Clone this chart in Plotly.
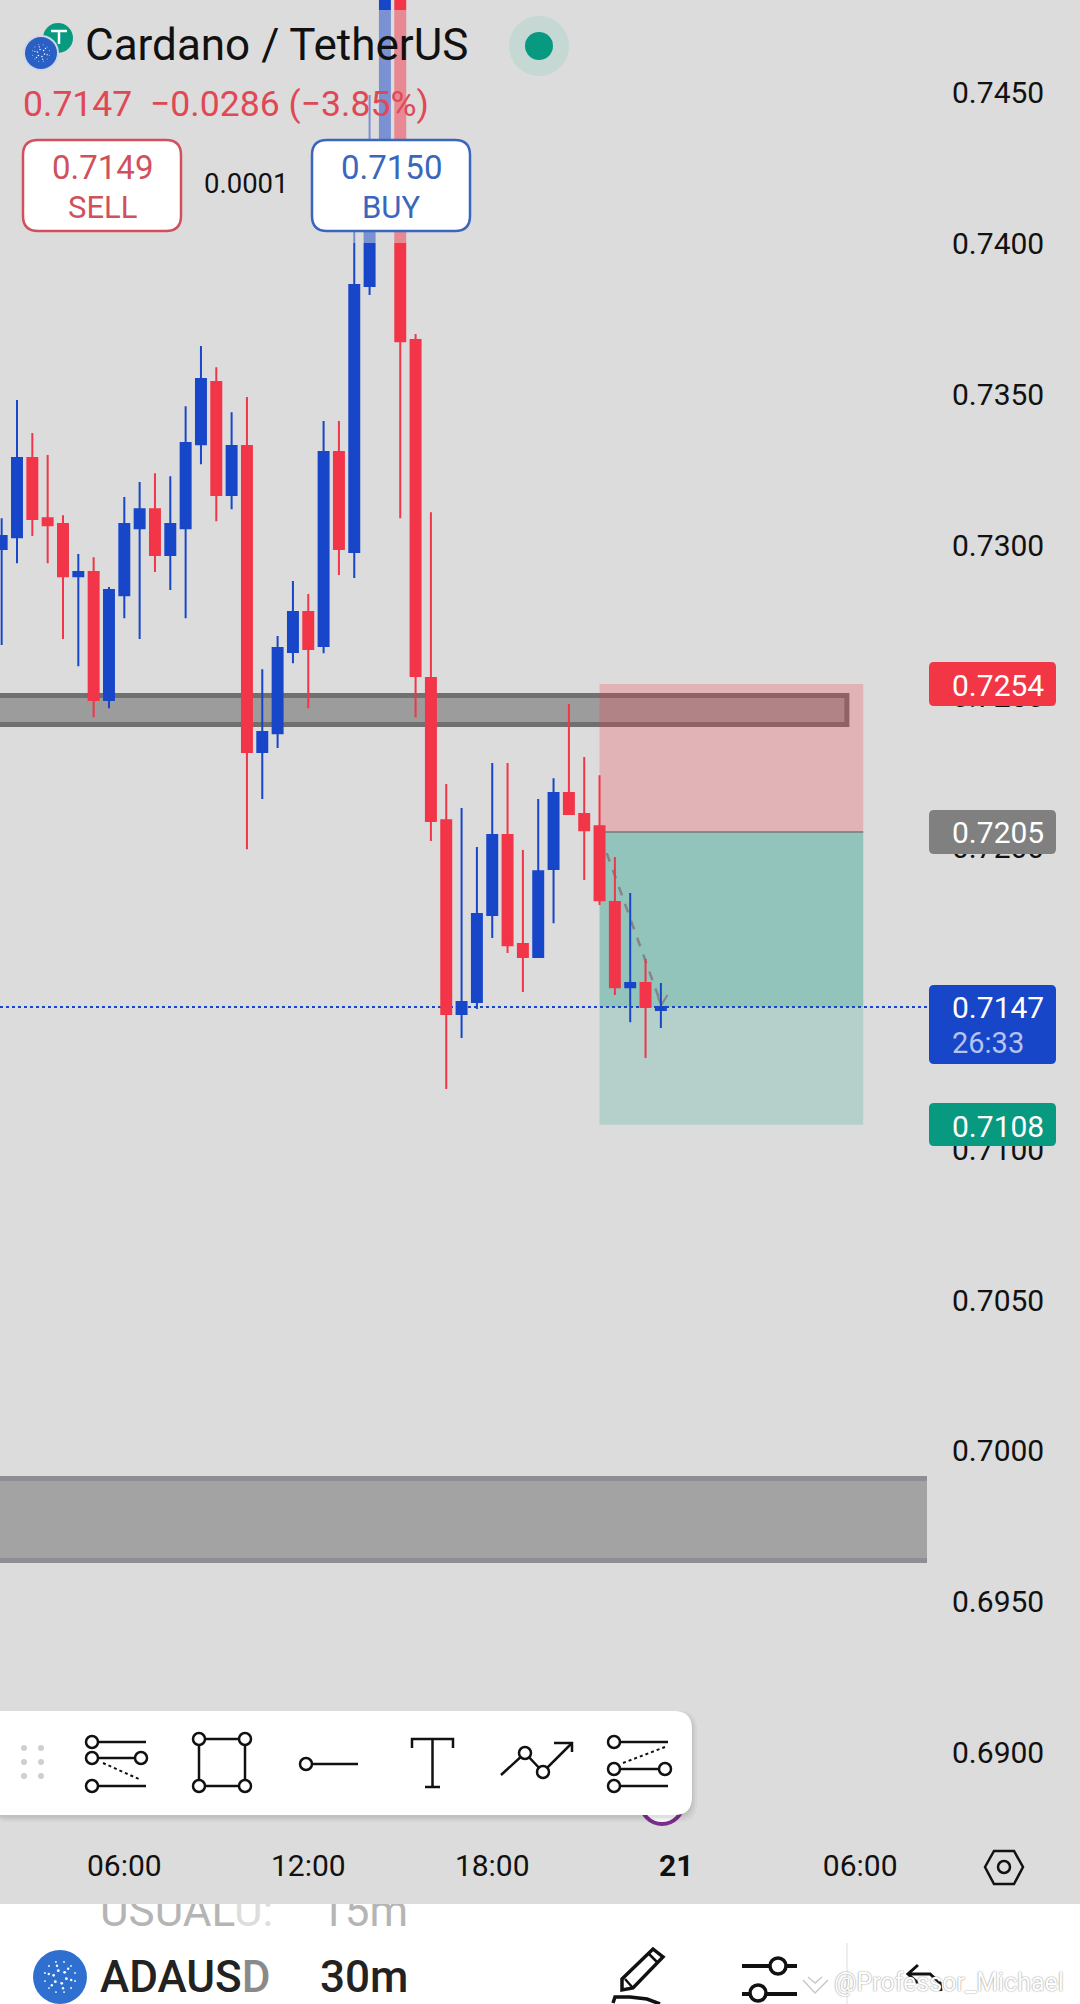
import numpy as np
import plotly.graph_objs as go

# ADAUSDT 30m candles
times = ['2025-01-20 02:00', '2025-01-20 02:30', '2025-01-20 03:00', '2025-01-20 03:30', '2025-01-20 04:00',
         '2025-01-20 04:30', '2025-01-20 05:00', '2025-01-20 05:30', '2025-01-20 06:00', '2025-01-20 06:30',
         '2025-01-20 07:00', '2025-01-20 07:30', '2025-01-20 08:00', '2025-01-20 08:30', '2025-01-20 09:00',
         '2025-01-20 09:30', '2025-01-20 10:00', '2025-01-20 10:30', '2025-01-20 11:00', '2025-01-20 11:30',
         '2025-01-20 12:00', '2025-01-20 12:30', '2025-01-20 13:00', '2025-01-20 13:30', '2025-01-20 14:00',
         '2025-01-20 14:30', '2025-01-20 15:00', '2025-01-20 15:30', '2025-01-20 16:00', '2025-01-20 16:30',
         '2025-01-20 17:00', '2025-01-20 17:30', '2025-01-20 18:00', '2025-01-20 18:30', '2025-01-20 19:00',
         '2025-01-20 19:30', '2025-01-20 20:00', '2025-01-20 20:30', '2025-01-20 21:00', '2025-01-20 21:30',
         '2025-01-20 22:00', '2025-01-20 22:30', '2025-01-20 23:00', '2025-01-20 23:30']
opens = [.72987, .73026, .73288, .73089, .73070, .72897, .72911, .72487, .72834, .73056, .73119,
         .72967, .73056, .73334, .73540, .73166, .73328, .72315, .72377, .72646, .72778, .72666,
         .73308, .72977, .73858, .74175, .75000, .73679, .72560, .72089, .71447, .71487, .71775,
         .72040, .71679, .71636, .71927, .72179, .72109, .72069, .71818, .71536, .71550, .71460]
highs = [.73089, .73480, .73371, .73298, .73099, .72970, .72960, .72861, .73159, .73209, .73238,
         .73228, .73460, .73659, .73589, .73440, .73490, .72589, .72699, .72881, .72838, .73411,
         .73411, .74090, .74490, .75100, .75050, .73699, .73109, .72209, .72129, .72000, .72278,
         .72278, .71990, .72159, .72228, .72474, .72298, .72238, .71967, .71848, .71629, .71550]
lows = [.72669, .72940, .73030, .72940, .72689, .72599, .72430, .72460, .72758, .72689, .72911,
        .72851, .72758, .73268, .73079, .73119, .71993, .72159, .72328, .72609, .72460, .72642,
        .72901, .72891, .73828, .74150, .73089, .72430, .72020, .71199, .71368, .71464, .71699,
        .71649, .71520, .71748, .71748, .72109, .71891, .71808, .71510, .71420, .71301, .71401]
closes = [.73030, .73288, .73086, .73066, .72897, .72911, .72487, .72851, .73070, .73119, .72967,
          .73070, .73338, .73550, .73166, .73328, .72315, .72381, .72659, .72778, .72656, .73308,
          .72987, .73861, .74175, .75000, .73675, .72566, .72086, .71447, .71487, .71778, .72040,
          .71675, .71636, .71920, .72179, .72109, .72056, .71824, .71536, .71550, .71470, .71470]

price_ticks = [0.69, 0.695, 0.70, 0.705, 0.71, 0.715, 0.72, 0.725, 0.73, 0.735, 0.74, 0.745]
price_range = [0.68725, 0.74805]
time_ticks = ['2025-01-20 06:00', '2025-01-20 12:00', '2025-01-20 18:00', '2025-01-21 00:00', '2025-01-21 06:00']
time_labels = ['06:00', '12:00', '18:00', '<b>21</b>', '06:00']
time_range = ['2025-01-20 01:56:44', '2025-01-21 08:10:48']

# drawings on the chart
last_price = 0.7147
stop_price = 0.7254
entry_price = 0.7205
target_price = 0.7108
box_start = '2025-01-20 21:30'
box_end = '2025-01-21 06:06'
zone1_prices = [0.72406, 0.72502]
zone1_start = '2025-01-20 01:00'
zone1_end = '2025-01-21 05:34'
zone2_prices = [0.69629, 0.69917]
zone2_lines = [0.69637, 0.69909]
arrow_x = ['2025-01-20 21:44', '2025-01-20 23:31']
arrow_y = [0.71980, 0.71477]
head_x = ['2025-01-20 23:24', '2025-01-20 23:43']
head_y = [0.71503, 0.7151]

BG = '#dcdcdc'
BLUE = '#1846c8'
RED = '#f23548'
FONT = 'Roboto'
W, H = 1080, 2004


def fx(x):
    return x / W


def fy(y):
    return 1 - y / H


shapes = []


def paper_line(x0, y0, x1, y1, color='#111111', width=2.5, dash='solid'):
    shapes.append(dict(type='line', xref='paper', yref='paper', layer='above',
                       x0=fx(x0), y0=fy(y0), x1=fx(x1), y1=fy(y1),
                       line=dict(color=color, width=width, dash=dash)))


def paper_circle(x, y, r, fill='white', color='#111111', width=2.5, layer='above'):
    shapes.append(dict(type='circle', xref='paper', yref='paper', layer=layer,
                       x0=fx(x - r), y0=fy(y - r), x1=fx(x + r), y1=fy(y + r),
                       fillcolor=fill, line=dict(color=color, width=width)))


def round_box(x0, y0, x1, y1, r, fill, color='rgba(0,0,0,0)', width=0, opacity=1, layer='above'):
    p = (f'M {fx(x0 + r)} {fy(y0)} L {fx(x1 - r)} {fy(y0)} Q {fx(x1)} {fy(y0)} {fx(x1)} {fy(y0 + r)} '
         f'L {fx(x1)} {fy(y1 - r)} Q {fx(x1)} {fy(y1)} {fx(x1 - r)} {fy(y1)} '
         f'L {fx(x0 + r)} {fy(y1)} Q {fx(x0)} {fy(y1)} {fx(x0)} {fy(y1 - r)} '
         f'L {fx(x0)} {fy(y0 + r)} Q {fx(x0)} {fy(y0)} {fx(x0 + r)} {fy(y0)} Z')
    shapes.append(dict(type='path', xref='paper', yref='paper', layer=layer, path=p, fillcolor=fill,
                       opacity=opacity, line=dict(color=color, width=width)))


def poly(points, color='#111111', width=2.5, fill=None, close=False):
    p = 'M ' + ' L '.join(f'{fx(x)} {fy(y)}' for x, y in points) + (' Z' if close else '')
    shapes.append(dict(type='path', xref='paper', yref='paper', layer='above', path=p,
                       fillcolor=fill if fill else 'rgba(0,0,0,0)', line=dict(color=color, width=width)))


def cardano_dots(cx, cy, scale):
    for radius, n, size in [(0.33, 6, 0.07), (0.58, 6, 0.06), (0.78, 12, 0.045)]:
        for a in np.linspace(0, 2 * np.pi, n, endpoint=False):
            paper_circle(cx + radius * scale * np.cos(a + 0.26), cy + radius * scale * np.sin(a + 0.26),
                         size * scale, color='white', width=0)


annotations = []


def label(x, y, text, size, color='#111111', anchor='left', **font_extra):
    annotations.append(dict(xref='paper', yref='paper', x=fx(x), y=fy(y), text=text, showarrow=False,
                            xanchor=anchor, yanchor='middle', borderpad=0,
                            font=dict(family=FONT, size=size, color=color, **font_extra)))


# position tool, zones and price line go under the candles
shapes.append(dict(type='rect', xref='x', yref='y', layer='below', x0=zone1_start, x1=zone1_end,
                   y0=zone1_prices[0], y1=zone1_prices[1], fillcolor='#9c9c9c',
                   line=dict(color='#707070', width=5)))
shapes.append(dict(type='rect', xref='paper', yref='y', layer='below', x0=0, x1=fx(927),
                   y0=zone2_prices[0], y1=zone2_prices[1], fillcolor='#a3a3a3', line=dict(width=0)))
for zl in zone2_lines:
    shapes.append(dict(type='line', xref='paper', yref='y', layer='below', x0=0, x1=fx(927),
                       y0=zl, y1=zl, line=dict(color='#8e8e93', width=5)))
shapes.append(dict(type='rect', xref='x', yref='y', layer='below', x0=box_start, x1=box_end,
                   y0=entry_price, y1=stop_price, fillcolor='rgba(242,54,69,0.25)', line=dict(width=0)))
shapes.append(dict(type='rect', xref='x', yref='y', layer='below', x0=box_start, x1=box_end,
                   y0=last_price, y1=entry_price, fillcolor='rgba(8,153,129,0.35)', line=dict(width=0)))
shapes.append(dict(type='rect', xref='x', yref='y', layer='below', x0=box_start, x1=box_end,
                   y0=target_price, y1=last_price, fillcolor='rgba(8,153,129,0.18)', line=dict(width=0)))
shapes.append(dict(type='line', xref='x', yref='y', layer='below', x0=box_start, x1=box_end,
                   y0=entry_price, y1=entry_price, line=dict(color='#808c8a', width=2)))
shapes.append(dict(type='line', xref='x', yref='y', layer='below', x0=time_range[0], x1=time_range[1],
                   y0=last_price, y1=last_price, line=dict(color=BLUE, width=2, dash='dot')))
shapes.append(dict(type='line', xref='x', yref='y', layer='below', x0=arrow_x[0], x1=arrow_x[1],
                   y0=arrow_y[0], y1=arrow_y[1], line=dict(color='#858585', width=2.5, dash='dash')))
for hx, hy in zip(head_x, head_y):
    shapes.append(dict(type='line', xref='x', yref='y', layer='below', x0=hx, x1=arrow_x[1],
                       y0=hy, y1=arrow_y[1], line=dict(color='#858585', width=2)))

# header veil over the candles
shapes.append(dict(type='rect', xref='paper', yref='paper', layer='above', x0=0, x1=fx(600),
                   y0=fy(243), y1=fy(10), fillcolor=BG, opacity=0.5, line=dict(width=0)))

# price tags on the right
round_box(929, 662, 1056, 706, 5, '#f23645')
round_box(929, 810, 1056, 854, 5, '#808080')
round_box(929, 985, 1056, 1064, 5, '#1846c8')
round_box(929, 1103, 1056, 1146, 5, '#089981')
label(951, 685, '0.7254', 30, 'white')
label(951, 832, '0.7205', 30, 'white')
label(951, 1007, '0.7147', 30, 'white')
label(951, 1043, '26:33', 29, '#b4c3ef')
label(951, 1126, '0.7108', 30, 'white')

# title block
paper_circle(58, 38, 15, fill='#089981', color='#089981', width=0)
poly([(51, 31), (67, 31)], color='white', width=2.5)
poly([(59, 31), (59, 44)], color='white', width=2.5)
paper_circle(41, 53, 18, fill='#d0d6e6', color='#d0d6e6', width=0)
paper_circle(41, 53, 16, fill='#2a5fc4', color='#2a5fc4', width=0)
cardano_dots(41, 53, 11)
label(84, 45, 'Cardano / TetherUS', 44)
label(22, 104, '0.7147\u00a0\u00a0\u22120.0286 (\u22123.85%)', 35.6, '#e04856')
paper_circle(539, 46, 30, fill='#c5d8d4', color='#c5d8d4', width=0)
paper_circle(539, 46, 14, fill='#089981', color='#089981', width=0)

round_box(23, 140, 181, 231, 15, 'white', color='#d1505c', width=2.5)
round_box(312, 140, 470, 231, 15, 'white', color='#3a66bd', width=2.5)
label(102, 167, '0.7149', 33, '#d1505c', 'center')
label(102, 207, 'SELL', 31, '#d1505c', 'center')
label(246, 184, '0.0001', 27.5, '#111111', 'center')
label(391, 167, '0.7150', 33, '#3a66bd', 'center')
label(391, 207, 'BUY', 31, '#3a66bd', 'center')

# drawing toolbar
paper_circle(662, 1803, 21, fill='white', color='#7b2d8e', width=4)
for i, a in enumerate([0.03, 0.04, 0.05]):
    round_box(-10, 1711 + i, 692 + 5 - i * 2, 1815 + 7 - i * 2, 18, 'black', opacity=a)
round_box(-20, 1711, 692, 1815, 18, 'white')
for gx in [24, 41]:
    for gy in [1748, 1762, 1776]:
        paper_circle(gx, gy, 3, fill='#cfcfcf', color='#cfcfcf', width=0)

paper_line(92, 1742, 146, 1742)
paper_line(92, 1758, 141, 1758)
paper_line(92, 1786, 146, 1786)
paper_line(103, 1763, 141, 1780, width=2, dash='dot')
for cx, cy in [(92, 1742), (92, 1758), (141, 1758), (92, 1786)]:
    paper_circle(cx, cy, 6)
poly([(199, 1739), (245, 1739), (245, 1786), (199, 1786)], close=True)
for cx, cy in [(199, 1739), (245, 1739), (199, 1786), (245, 1786)]:
    paper_circle(cx, cy, 6)
paper_line(306, 1764, 358, 1764)
paper_circle(306, 1764, 6)
poly([(412, 1748), (412, 1739), (453, 1739), (453, 1748)])
paper_line(432.5, 1739, 432.5, 1787)
paper_line(425, 1787, 440, 1787)
poly([(501, 1775), (525, 1753), (543, 1772), (572, 1743)])
poly([(554, 1743), (572, 1743), (572, 1752)])
paper_circle(525, 1753, 6)
paper_circle(543, 1772, 6)
paper_line(614, 1742, 668, 1742)
paper_line(614, 1769, 665, 1769)
paper_line(614, 1786, 668, 1786)
paper_line(623, 1763, 665, 1747, width=2, dash='dot')
for cx, cy in [(614, 1742), (614, 1769), (665, 1769), (614, 1786)]:
    paper_circle(cx, cy, 6)

# hexagon settings button
poly([(985, 1867), (994, 1851), (1014, 1851), (1023, 1867), (1014, 1884), (994, 1884)], close=True)
paper_circle(1004, 1867, 6, fill=BG)

# bottom white panel
shapes.append(dict(type='rect', xref='paper', yref='paper', layer='below', x0=0, x1=1, y0=0, y1=fy(1904),
                   fillcolor='white', line=dict(width=0)))
paper_circle(60, 1977, 27, fill='#2f6fd0', color='#2f6fd0', width=0)
cardano_dots(60, 1977, 20)
paper_line(847, 1943, 847, 2004, color='#e8e8e8', width=1.5)
# pencil
poly([(653, 1949), (663, 1957), (633, 1988), (622, 1990), (622, 1979)], width=3.5, close=True)
paper_line(648, 1953, 658, 1963, width=2.5)
paper_line(625, 1979, 633, 1988, width=2.5)
poly([(613, 2003), (615, 1997), (630, 1997), (647, 1999), (660, 2004)], width=3.5)
# sliders
paper_line(742, 1966, 797, 1966, width=4)
paper_line(742, 1994, 797, 1994, width=4)
paper_circle(778, 1966, 8, width=3.5)
paper_circle(758, 1993, 8, width=3.5)
# undo arrow
poly([(918, 1965), (908, 1974), (918, 1983)], width=3)
poly([(908, 1974), (930, 1974), (940, 1983), (941, 1991)], width=3)
# watermark
poly([(803, 1980), (815, 1993), (828, 1980)], color='#c8c8c8', width=1.5)
poly([(808, 1977), (815, 1983), (822, 1977)], color='#c8c8c8', width=1.5)
label(833, 1982, '@Professor_Michael', 25, 'white', shadow='0 0 1.5px #666666')

fig = go.Figure()

fig.add_trace(go.Candlestick(x=times, open=opens, high=highs, low=lows, close=closes,
                             increasing=dict(line=dict(color=BLUE, width=2), fillcolor=BLUE),
                             decreasing=dict(line=dict(color=RED, width=2), fillcolor=RED),
                             whiskerwidth=0, hoverinfo='skip', showlegend=False))

# footer tab strip, clipped by its own little axes so the row above is cut off
fig.add_trace(go.Scatter(x=[100, 320, 100, 320], y=[1915, 1915, 1981, 1981], mode='text',
                         text=['USUAL<span style="color:#dddddd">U:</span>', '15m',
                               'ADAUS<span style="color:#8a8a8a">D</span>', '30m'],
                         textposition='middle right',
                         textfont=dict(family=FONT, size=44, weight=[400, 400, 500, 500],
                                       color=['#b5b5b5', '#b5b5b5', '#222222', '#222222']),
                         xaxis='x2', yaxis='y2', hoverinfo='skip', showlegend=False))

fig.update_layout(
    width=W, height=H, autosize=False, margin=dict(l=0, r=0, t=0, b=0),
    paper_bgcolor=BG, plot_bgcolor='rgba(0,0,0,0)', boxgap=0.35, boxgroupgap=0, showlegend=False,
    font=dict(family=FONT, color='#111111'),
    xaxis=dict(domain=[0, 927 / W], range=time_range, type='date', rangeslider=dict(visible=False),
               showgrid=False, zeroline=False, tickmode='array', tickvals=time_ticks, ticktext=time_labels,
               ticks='outside', ticklen=3, tickcolor='rgba(0,0,0,0)', tickangle=0,
               tickfont=dict(family=FONT, size=30, color='#111111'), showline=False),
    yaxis=dict(domain=[1 - 1836 / H, 1], range=price_range, side='right', showgrid=False, zeroline=False,
               tickmode='array', tickvals=price_ticks, ticktext=[f'{p:.4f}' for p in price_ticks],
               ticks='outside', ticklen=18, tickcolor='rgba(0,0,0,0)',
               tickfont=dict(family=FONT, size=30, color='#111111'), showline=False),
    xaxis2=dict(domain=[0, 1], range=[0, W], visible=False),
    yaxis2=dict(domain=[0, 100 / H], range=[2004, 1904], visible=False),
    shapes=shapes, annotations=annotations)

fig.write_html("out.html", post_script='document.body.style.margin="0";document.body.style.overflow="hidden";',
               config=dict(displayModeBar=False))
